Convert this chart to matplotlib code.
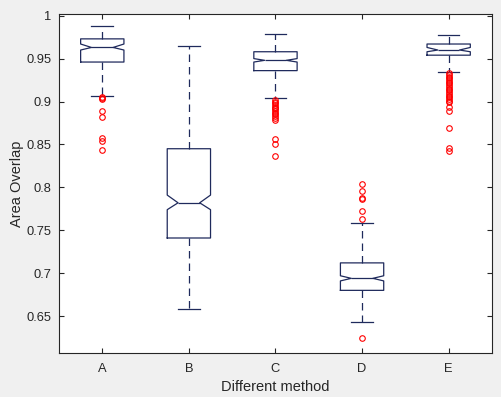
import matplotlib.pyplot as plt

plt.rcParams['font.family'] = ['Liberation Sans', 'DejaVu Sans']

methods = ['A', 'B', 'C', 'D', 'E']

# box statistics
medians = [0.963, 0.782, 0.948, 0.694, 0.960]
q1s = [0.946, 0.741, 0.936, 0.680, 0.954]
q3s = [0.973, 0.845, 0.958, 0.712, 0.967]
notch_lo = [0.960, 0.774, 0.946, 0.691, 0.958]
notch_hi = [0.967, 0.791, 0.950, 0.697, 0.963]
whisk_lo = [0.906, 0.658, 0.904, 0.643, 0.934]
whisk_hi = [0.988, 0.965, 0.979, 0.758, 0.978]

outliers_a = [0.905, 0.904, 0.903, 0.889, 0.882, 0.858, 0.854, 0.844]
outliers_b = []
outliers_c = [0.902, 0.900, 0.898, 0.896, 0.894, 0.893, 0.891, 0.889, 0.887,
              0.885, 0.883, 0.881, 0.879, 0.856, 0.851, 0.837]
outliers_d = [0.804, 0.796, 0.788, 0.786, 0.772, 0.763, 0.625]
outliers_e = [0.933, 0.931, 0.929, 0.927, 0.925, 0.923, 0.921, 0.919, 0.917,
              0.915, 0.913, 0.911, 0.909, 0.907, 0.905, 0.903, 0.901, 0.899,
              0.894, 0.889, 0.869, 0.846, 0.842]
outliers = [outliers_a, outliers_b, outliers_c, outliers_d, outliers_e]


def main():

    stats = []
    for i in range(len(methods)):
        stats.append({'med': medians[i], 'q1': q1s[i], 'q3': q3s[i],
                      'cilo': notch_lo[i], 'cihi': notch_hi[i],
                      'whislo': whisk_lo[i], 'whishi': whisk_hi[i],
                      'fliers': outliers[i], 'label': methods[i]})

    navy = '#1f2a5c'
    dark = '#262626'

    fig = plt.figure(figsize=(5.02, 3.97), dpi=100, facecolor='#f0f0f0')
    ax = fig.add_axes([0.1175, 0.1108, 0.8625, 0.854])
    ax.set_facecolor('white')

    ax.bxp(stats, widths=0.5, shownotches=True,
           boxprops={'color': navy, 'linewidth': 0.9},
           medianprops={'color': navy, 'linewidth': 0.9},
           whiskerprops={'color': navy, 'linewidth': 0.9, 'linestyle': (0, (6, 4))},
           capprops={'color': navy, 'linewidth': 0.9},
           flierprops={'marker': 'o', 'markersize': 4, 'markerfacecolor': 'none',
                       'markeredgecolor': 'red', 'markeredgewidth': 0.8})

    ax.set_xlim(0.5, 5.5)
    ax.set_ylim(0.607, 1.002)
    ax.set_yticks([0.65, 0.7, 0.75, 0.8, 0.85, 0.9, 0.95, 1])
    ax.set_yticklabels(['0.65', '0.7', '0.75', '0.8', '0.85', '0.9', '0.95', '1'])

    ax.tick_params(direction='in', length=3.5, width=0.8, colors=dark,
                   labelsize=9.25, top=True, right=True)
    ax.tick_params(axis='x', pad=7.5)
    ax.tick_params(axis='y', pad=5.3)
    for sp in ax.spines.values():
        sp.set_color(dark)
        sp.set_linewidth(0.8)

    ax.set_xlabel('Different method', fontsize=10.5, color=dark, labelpad=3)
    ax.set_ylabel('Area Overlap', fontsize=10.5, color=dark, labelpad=2)

    fig.savefig('out.png', dpi=100, facecolor=fig.get_facecolor())


if __name__ == '__main__':

    main()
